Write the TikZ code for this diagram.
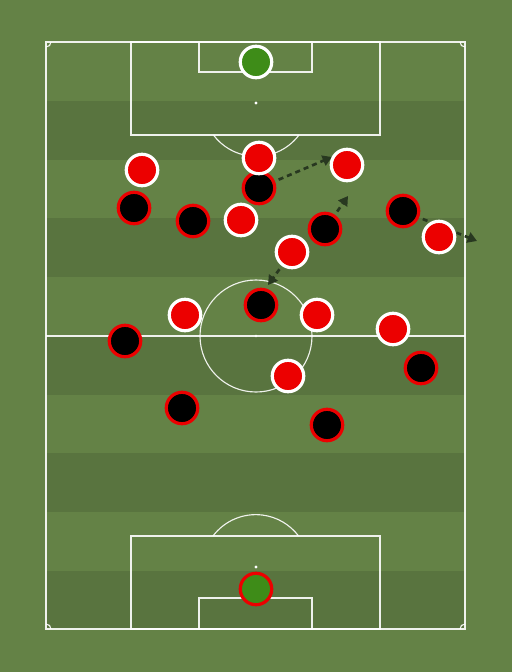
\documentclass[tikz,border=0pt]{standalone}
\usepackage{tikz}
\usetikzlibrary{arrows.meta}
\definecolor{grassLight}{RGB}{100,130,70}
\definecolor{grassDark}{RGB}{89,116,63}
\definecolor{shirtRed}{RGB}{236,0,0}
\definecolor{keeperGreen}{RGB}{62,140,24}
\definecolor{runDark}{RGB}{40,56,32}
\tikzset{every picture/.style={line width=0.75pt}}
\tikzset{
  pitchline/.style={draw=white, draw opacity=0.9, line width=0.85pt},
  redman/.style={circle, fill=shirtRed, draw=white, line width=2.4pt, minimum size=23.6pt, inner sep=0pt},
  blackman/.style={circle, fill=black, draw=shirtRed, line width=2.4pt, minimum size=23.6pt, inner sep=0pt},
  run/.style={draw=runDark, line width=2pt, dash pattern=on 3.8pt off 3pt, -{Triangle[length=7pt,width=8pt]}, shorten <=3pt},
}

\begin{document}
\begin{tikzpicture}[x=0.75pt,y=0.75pt,yscale=-1,xscale=1]
\useasboundingbox (0,0) rectangle (512,672);

%Background
\fill[grassLight] (0,0) rectangle (512,672);
%Stripes
\foreach \y in {101,218.4,335.8,453.2,570.6}
  \fill[grassDark] (46,\y) rectangle (465,\y+58.7);

%Outline and halfway line
\draw[pitchline] (46,42) rectangle (465,629);
\draw[pitchline] (46,336) -- (465,336);
%Centre circle and spots
\draw[pitchline] (256,336) circle[radius=56];
\fill[white] (256,336) circle[radius=1.3];
\fill[white] (256,103) circle[radius=1.6];
\fill[white] (256,567) circle[radius=1.6];
%Top boxes
\draw[pitchline] (131,42) rectangle (380,135);
\draw[pitchline] (199,42) rectangle (312,72);
\draw[pitchline] (299,135) arc[start angle=36.9, end angle=143.1, radius=53.5];
%Bottom boxes
\draw[pitchline] (131,536) rectangle (380,629);
\draw[pitchline] (199,598) rectangle (312,629);
\draw[pitchline] (213,536) arc[start angle=216.9, end angle=323.1, radius=53.5];
%Corner arcs
\draw[pitchline] (51,42) arc[start angle=0, end angle=90, radius=5];
\draw[pitchline] (465,47) arc[start angle=90, end angle=180, radius=5];
\draw[pitchline] (46,624) arc[start angle=270, end angle=360, radius=5];
\draw[pitchline] (460,629) arc[start angle=180, end angle=270, radius=5];

% Keepers
\node[redman, fill=keeperGreen] (gkTop) at (256,62) {};
\node[blackman, fill=keeperGreen] (gkBot) at (256,589) {};

% Black team
\node[blackman] (blk1) at (134,208) {};
\node[blackman] (blk2) at (193,221) {};
\node[blackman] (blk3) at (259,188) {};
\node[blackman] (blk4) at (325,229) {};
\node[blackman] (blk5) at (403,211) {};
\node[blackman] (blk6) at (261,305) {};
\node[blackman] (blk7) at (125,341) {};
\node[blackman] (blk8) at (421,368) {};
\node[blackman] (blk9) at (182,408) {};
\node[blackman] (blk10) at (327,425) {};

% Runs
\coordinate (to1) at (332,157);
\coordinate (to2) at (348,196);
\coordinate (to3) at (477,241);
\coordinate (to4) at (268,285);
\draw[run] (blk3) -- (to1);
\draw[run] (blk4) -- (to2);
\draw[run] (blk5) -- (to3);

% Red team
\node[redman] (red1) at (142,170) {};
\node[redman] (red2) at (259,158) {};
\node[redman] (red3) at (347,165) {};
\node[redman] (red4) at (241,220) {};
\node[redman] (red5) at (292,252) {};
\node[redman] (red6) at (185,315) {};
\node[redman] (red7) at (317,315) {};
\node[redman] (red8) at (393,329) {};
\node[redman] (red9) at (439,237) {};
\node[redman] (red10) at (288,376) {};

\draw[run] (red5) -- (to4);

\end{tikzpicture}
\end{document}
